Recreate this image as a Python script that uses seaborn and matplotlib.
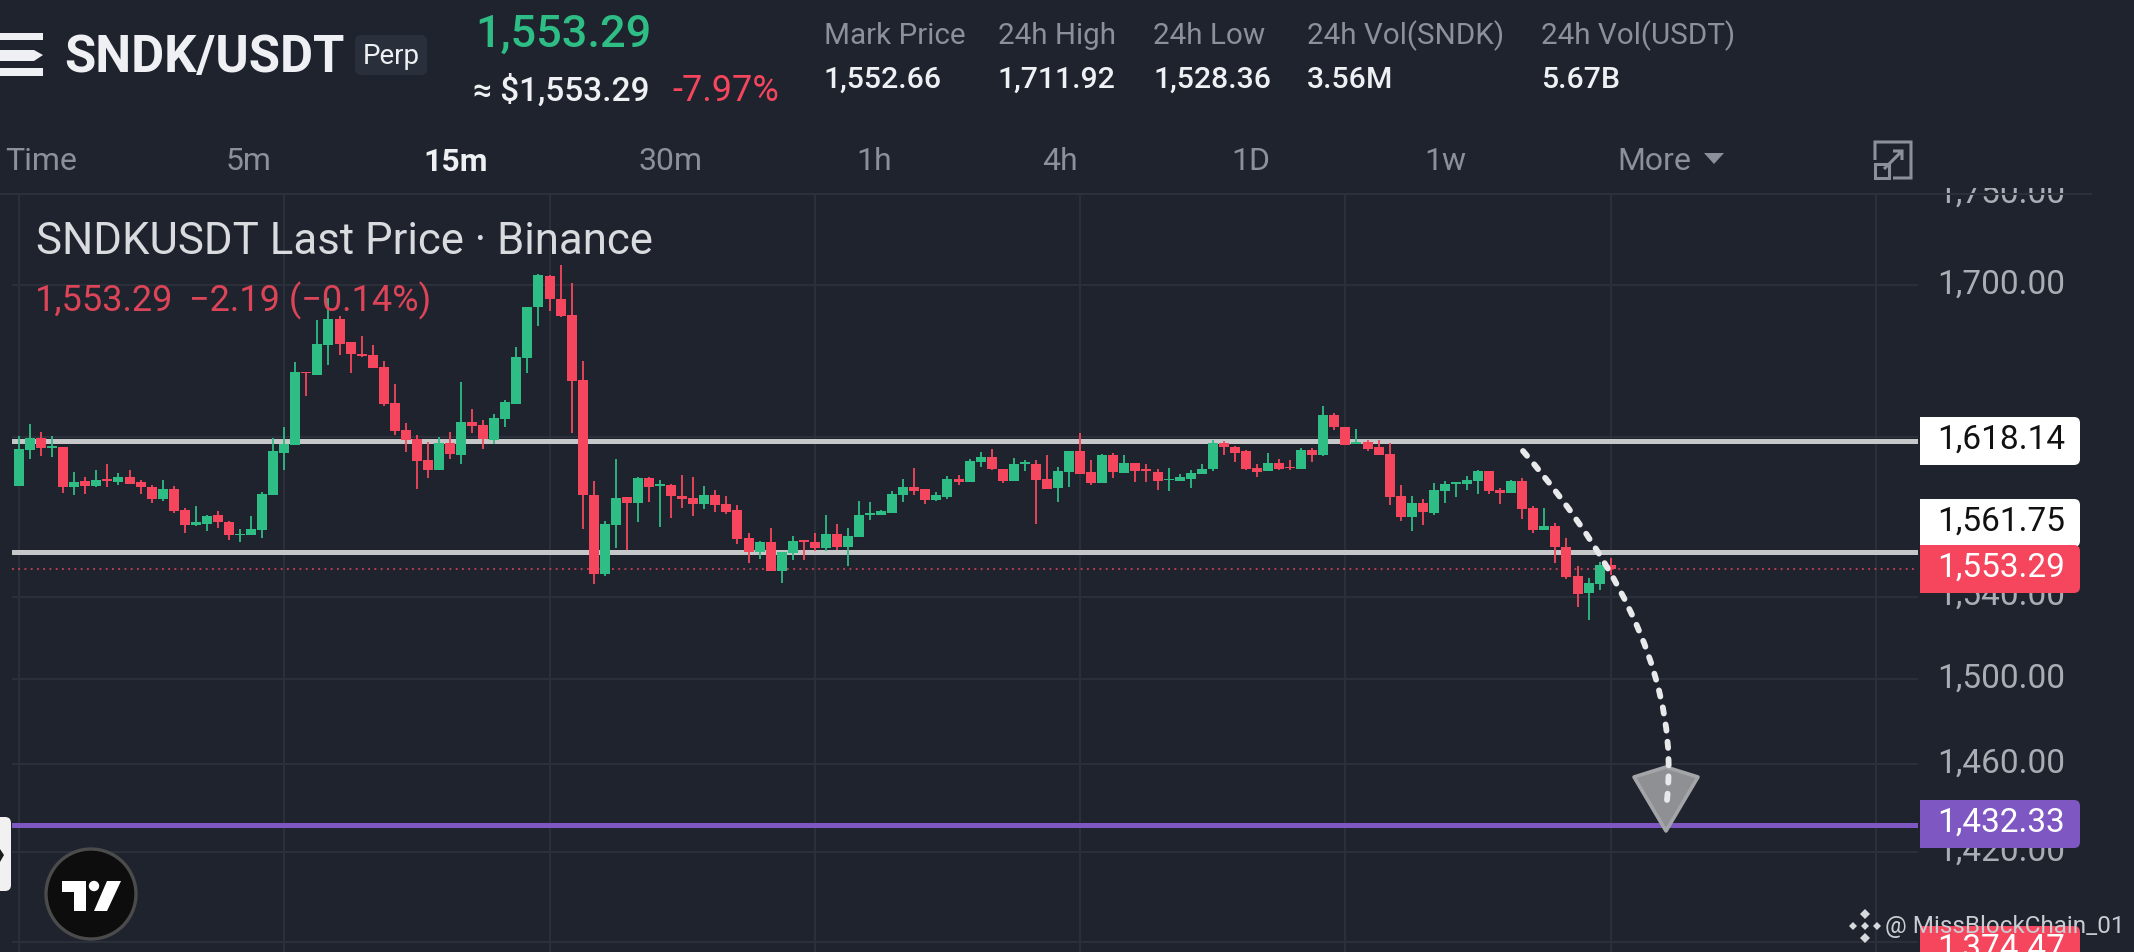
import matplotlib
matplotlib.use('Agg')
import matplotlib.pyplot as plt
import matplotlib.transforms as mtransforms
from matplotlib.patches import Rectangle, Circle, Polygon, FancyBboxPatch, PathPatch
from matplotlib.path import Path
import pandas as pd
import seaborn as sns

# 15m candles
opens = [1595.2, 1613.3, 1619.6, 1614.5, 1614.9, 1594.5, 1597.4, 1595.2, 1598.8, 1597.1,
         1599.8, 1596.9, 1594.7, 1588.5, 1593.6, 1582.9, 1575.5, 1575.7, 1580.3, 1577.1,
         1570.2, 1570.2, 1573.1, 1590.6, 1612.0, 1616.1, 1653.8, 1652.1, 1668.1, 1681.9,
         1669.4, 1663.5, 1662.9, 1656.4, 1637.6, 1623.6, 1618.8, 1608.1, 1603.1, 1616.8,
         1610.8, 1627.7, 1626.0, 1618.5, 1629.1, 1637.3, 1661.3, 1688.1, 1705.0, 1692.7,
         1684.0, 1649.6, 1590.7, 1551.1, 1575.6, 1589.2, 1586.4, 1598.9, 1595.0, 1595.3,
         1590.2, 1588.7, 1585.7, 1590.7, 1585.7, 1582.8, 1569.1, 1561.9, 1566.8, 1552.4,
         1561.2, 1568.0, 1566.8, 1563.8, 1571.1, 1564.3, 1569.6, 1580.2, 1580.2, 1581.6,
         1590.4, 1594.3, 1593.4, 1587.9, 1589.7, 1598.7, 1596.8, 1607.3, 1609.7, 1603.9,
         1597.7, 1606.0, 1606.0, 1598.4, 1593.8, 1602.3, 1612.7, 1602.1, 1596.5, 1610.6,
         1601.7, 1606.5, 1603.6, 1602.0, 1597.9, 1597.7, 1598.8, 1601.3, 1603.4, 1617.1,
         1615.0, 1612.6, 1604.4, 1602.5, 1606.5, 1604.9, 1603.4, 1613.6, 1610.7, 1631.4,
         1625.3, 1616.4, 1617.6, 1614.7, 1611.2, 1589.8, 1579.5, 1586.3, 1581.6, 1592.6,
         1596.1, 1595.9, 1597.5, 1602.5, 1592.9, 1591.4, 1597.5, 1583.9, 1572.8, 1575.1,
         1564.6, 1550.0, 1541.9, 1546.1, 1555.5]
highs = [1620.5, 1626.5, 1622.7, 1620.8, 1614.9, 1602.2, 1599.5, 1603.0, 1606.0, 1601.7,
         1603.0, 1598.3, 1595.7, 1597.9, 1595.2, 1583.9, 1584.9, 1580.6, 1582.4, 1577.4,
         1573.5, 1579.8, 1591.9, 1619.3, 1625.1, 1658.9, 1653.8, 1681.3, 1693.4, 1683.6,
         1669.7, 1673.0, 1668.1, 1659.4, 1647.3, 1627.4, 1621.0, 1617.6, 1620.2, 1622.7,
         1648.4, 1634.5, 1628.6, 1632.1, 1639.3, 1667.0, 1688.4, 1706.2, 1705.3, 1710.9,
         1701.4, 1659.7, 1597.5, 1577.6, 1609.0, 1589.6, 1599.5, 1599.7, 1598.3, 1595.8,
         1600.5, 1599.5, 1595.0, 1592.8, 1590.2, 1585.2, 1571.3, 1567.5, 1573.9, 1562.0,
         1569.8, 1568.0, 1571.3, 1580.2, 1575.7, 1574.0, 1587.4, 1586.8, 1583.0, 1592.3,
         1598.4, 1604.1, 1593.4, 1591.8, 1600.2, 1600.6, 1608.7, 1612.4, 1613.8, 1603.9,
         1609.2, 1608.3, 1608.3, 1610.7, 1604.8, 1612.9, 1621.9, 1608.2, 1611.2, 1611.6,
         1610.6, 1606.5, 1606.3, 1603.4, 1604.2, 1601.0, 1602.9, 1606.3, 1618.4, 1617.9,
         1615.4, 1613.1, 1606.1, 1611.6, 1609.0, 1608.0, 1614.5, 1614.5, 1636.2, 1632.5,
         1625.3, 1623.9, 1618.3, 1618.4, 1617.1, 1595.4, 1590.0, 1588.3, 1596.5, 1597.8,
         1597.1, 1600.0, 1603.2, 1602.5, 1593.9, 1598.1, 1599.0, 1584.9, 1583.8, 1576.5,
         1568.9, 1555.0, 1548.9, 1556.8, 1558.8]
lows = [1595.2, 1609.0, 1610.2, 1609.9, 1591.4, 1590.6, 1591.1, 1594.5, 1594.5, 1595.7,
        1596.0, 1590.9, 1586.5, 1587.5, 1581.2, 1571.4, 1574.7, 1572.6, 1573.8, 1568.0,
        1566.8, 1570.2, 1568.8, 1590.6, 1602.9, 1616.1, 1641.4, 1652.1, 1657.7, 1662.9,
        1653.5, 1661.5, 1655.9, 1635.9, 1621.0, 1612.5, 1593.7, 1599.2, 1603.1, 1608.6,
        1606.0, 1621.9, 1613.7, 1616.6, 1625.1, 1637.3, 1653.5, 1678.3, 1686.0, 1683.1,
        1621.9, 1573.4, 1546.0, 1549.9, 1563.7, 1562.9, 1576.9, 1587.0, 1574.2, 1578.9,
        1584.0, 1579.8, 1583.2, 1582.1, 1581.1, 1565.9, 1556.5, 1558.3, 1552.3, 1546.5,
        1557.8, 1557.8, 1562.6, 1562.6, 1563.0, 1554.8, 1569.6, 1577.7, 1580.2, 1581.6,
        1586.8, 1590.4, 1585.8, 1587.2, 1588.4, 1595.5, 1596.8, 1604.8, 1603.3, 1596.5,
        1597.7, 1602.8, 1576.0, 1593.4, 1587.0, 1594.3, 1601.2, 1595.6, 1596.5, 1599.3,
        1601.7, 1597.1, 1596.9, 1593.1, 1592.4, 1597.7, 1594.2, 1601.3, 1602.7, 1610.7,
        1607.3, 1603.0, 1599.6, 1602.5, 1603.2, 1602.9, 1603.4, 1607.2, 1610.2, 1623.4,
        1615.9, 1616.4, 1612.8, 1610.7, 1585.3, 1577.3, 1572.4, 1575.3, 1580.2, 1586.6,
        1589.2, 1592.9, 1590.9, 1590.9, 1585.8, 1591.4, 1578.5, 1571.2, 1572.8, 1556.3,
        1548.8, 1534.8, 1528.4, 1543.2, 1550.6]
closes = [1613.7, 1619.6, 1614.2, 1615.4, 1594.5, 1597.1, 1595.2, 1598.3, 1597.8, 1599.8,
          1596.2, 1594.3, 1588.5, 1593.6, 1582.4, 1575.5, 1576.7, 1580.1, 1576.7, 1570.2,
          1570.9, 1573.5, 1591.1, 1612.6, 1616.2, 1653.8, 1653.1, 1668.5, 1681.9, 1668.5,
          1663.4, 1662.0, 1655.9, 1637.3, 1623.1, 1618.5, 1607.7, 1603.1, 1617.1, 1611.1,
          1627.9, 1625.7, 1618.8, 1629.6, 1637.9, 1661.8, 1688.4, 1705.3, 1692.4, 1683.5,
          1649.2, 1590.4, 1551.1, 1576.1, 1589.0, 1586.4, 1598.9, 1594.5, 1595.8, 1589.9,
          1588.4, 1585.7, 1590.7, 1585.2, 1582.0, 1568.3, 1561.9, 1566.8, 1552.3, 1561.7,
          1567.5, 1567.1, 1563.7, 1571.1, 1564.3, 1570.1, 1580.2, 1581.3, 1582.3, 1590.9,
          1594.3, 1592.6, 1587.9, 1590.4, 1598.5, 1597.2, 1607.8, 1609.9, 1603.6, 1597.3,
          1606.0, 1607.0, 1598.0, 1593.4, 1602.8, 1612.7, 1601.2, 1596.5, 1610.7, 1602.0,
          1606.5, 1602.5, 1602.7, 1597.7, 1598.6, 1599.5, 1601.8, 1603.9, 1617.1, 1614.7,
          1611.9, 1603.9, 1602.2, 1606.5, 1603.7, 1604.1, 1613.6, 1610.7, 1631.4, 1625.0,
          1615.9, 1617.4, 1614.0, 1610.7, 1589.5, 1579.5, 1586.3, 1581.7, 1592.9, 1595.9,
          1597.0, 1598.1, 1602.5, 1592.4, 1591.5, 1597.5, 1583.2, 1572.9, 1575.1, 1564.3,
          1549.6, 1541.2, 1546.5, 1555.5, 1553.29]

grid_prices = [1380, 1420, 1460, 1500, 1540, 1620, 1700, 1750]
grid_labels = ['', '1,420.00', '1,460.00', '1,500.00', '1,540.00', '', '1,700.00', '1,750.00']
grid_candles = [0, 24, 48, 72, 96, 120, 144, 168]
support_levels = [1618.14, 1561.75]
target_level = 1432.33
last_price = 1553.29

header_stats = ['Mark Price', '24h High', '24h Low', '24h Vol(SNDK)', '24h Vol(USDT)']
header_values = ['1,552.66', '1,711.92', '1,528.36', '3.56M', '5.67B']
timeframes = ['5m', '15m', '30m', '1h', '4h', '1D', '1w']

BG = '#1e232e'
GREEN = '#2ebd85'
RED = '#f6465d'
PURPLE = '#7e57c2'
GRID = '#2b303b'
GREY = '#8b909a'
AXIS = '#a9adb4'
WHITE = '#eef0f3'

sns.set_theme(style='dark', rc={'axes.facecolor': BG, 'figure.facecolor': BG,
                                'lines.scale_dashes': False})
plt.rcParams['font.family'] = ['Roboto', 'DejaVu Sans']

fig = plt.figure(figsize=(21.34, 9.52), dpi=100)
px = mtransforms.Affine2D().scale(1 / 2134, -1 / 952).translate(0, 1) + fig.transFigure

ax = fig.add_axes([12 / 2134, 0, 1906 / 2134, 758 / 952])
ax.set_yscale('log')

# --- candles: one two-point line per wick and per body ---
candles = pd.DataFrame({'candle': range(len(opens)), 'open': opens, 'high': highs,
                        'low': lows, 'close': closes})
candles['side'] = ['up' if c >= o else 'down' for o, c in zip(opens, closes)]
wicks = candles.melt(id_vars=['candle', 'side'], value_vars=['high', 'low'], value_name='price')
bodies = candles.melt(id_vars=['candle', 'side'], value_vars=['open', 'close'], value_name='price')
palette = {'up': GREEN, 'down': RED}

sns.lineplot(data=wicks, x='candle', y='price', hue='side', units='candle', estimator=None,
             palette=palette, linewidth=1.3, legend=False, ax=ax, zorder=4,
             solid_capstyle='butt')
sns.lineplot(data=bodies, x='candle', y='price', hue='side', units='candle', estimator=None,
             palette=palette, linewidth=7.2, legend=False, ax=ax, zorder=4,
             solid_capstyle='butt')

# --- levels ---
for level in support_levels:
    ax.axhline(level, color='#c6c7c9', linewidth=3.6, zorder=3)
ax.axhline(target_level, color=PURPLE, linewidth=3.6, zorder=3)
ax.axhline(last_price, color=RED, linewidth=1.3, linestyle=(0, (1.3, 3.2)), alpha=0.8, zorder=2)

# --- axes ---
ax.set_xlim(-0.63, 171.8)
ax.set_ylim(1375.6, 1749.6)
ax.set_xlabel('')
ax.set_ylabel('')
ax.set_xticks(grid_candles)
ax.set_xticklabels([])
ax.set_yticks(grid_prices)
ax.set_yticks([], minor=True)
ax.set_yticklabels(grid_labels)
ax.yaxis.tick_right()
ax.tick_params(axis='y', which='both', length=0, pad=105.8, labelsize=24, labelcolor=AXIS)
ax.tick_params(axis='x', length=0)
label_shift = mtransforms.ScaledTranslation(0, 4 / 100, fig.dpi_scale_trans)
for label in ax.get_yticklabels():
    label.set_ha('right')
    label.set_transform(label.get_transform() + label_shift)
ax.grid(True, color=GRID, linewidth=1.4, zorder=0)
ax.set_axisbelow(True)
sns.despine(ax=ax, left=True, bottom=True, right=True, top=True)


def ptext(x, y, s, size, color=WHITE, ha='left', weight='normal', z=8):
    fig.text(x, y, s, fontsize=size, color=color, ha=ha, va='center', weight=weight,
             transform=px, zorder=z)


def pshape(patch, z=6):
    patch.set_transform(px)
    patch.set_zorder(z)
    fig.add_artist(patch)


# --- header cover, clips the top tick label ---
pshape(Rectangle((0, 0), 2134, 188, facecolor=BG, edgecolor='none'), z=3)
pshape(Rectangle((0, 193), 2092, 1.6, facecolor=GRID, edgecolor='none'), z=3)

# hamburger icon
for top, h in [(33, 7), (68, 8)]:
    pshape(Rectangle((0, top), 43, h, facecolor=WHITE, edgecolor='none'))
pshape(Polygon([(0, 50), (34, 50), (43, 55), (34, 61), (0, 61)], facecolor=WHITE, edgecolor='none'))

ptext(64, 58, 'SNDK/USDT', 36.5, weight='bold')
pshape(FancyBboxPatch((360, 40), 62, 30, boxstyle='round,pad=5,rounding_size=6',
                      facecolor='#2a303b', edgecolor='none'))
ptext(391, 57, 'Perp', 20, ha='center')
ptext(475, 35, '1,553.29', 32.5, color=GREEN, weight='medium')
ptext(473, 91, '≈ $1,553.29', 24, weight='medium')
ptext(672, 91, '-7.97%', 26, color=RED)

for x, name, value in zip([824, 998, 1153, 1307, 1541], header_stats, header_values):
    ptext(x, 36, name, 21.3, color=GREY)
    ptext(x, 80, value, 21.8, weight='medium')

ptext(5, 162, 'Time', 23, color=GREY)
for x, tf in zip([249, 456, 671, 874, 1060, 1251, 1445], timeframes):
    if tf == '15m':
        ptext(x, 162, tf, 23, ha='center', weight='bold')
    else:
        ptext(x, 162, tf, 23, color=GREY, ha='center')
ptext(1654, 162, 'More', 23, color=GREY, ha='center')
pshape(Polygon([(1704, 153), (1724, 153), (1714, 164)], facecolor=GREY, edgecolor='none'))
# expand icon
icon = Path([(1875, 160), (1875, 142), (1911, 142), (1911, 178), (1893, 178),
             (1884, 169), (1902, 151), (1893, 151), (1902, 151), (1902, 160)],
            [Path.MOVETO, Path.LINETO, Path.LINETO, Path.LINETO, Path.LINETO,
             Path.MOVETO, Path.LINETO, Path.MOVETO, Path.LINETO, Path.LINETO])
pshape(PathPatch(icon, facecolor='none', edgecolor=GREY, linewidth=2.2))
pshape(Rectangle((1875, 164), 14, 14, facecolor='none', edgecolor=GREY, linewidth=2.2))

# --- chart legend ---
ptext(36, 242, 'SNDKUSDT Last Price · Binance', 31.5, color='#d9dbdf')
ptext(35, 301, '1,553.29', 26, color='#dc4458')
ptext(189, 301, '−2.19 (−0.14%)', 26, color='#dc4458')

# --- projected move ---
pshape(Polygon([(1666, 831), (1634, 777), (1666, 767), (1698, 777)], closed=True,
               facecolor='#8e9094', edgecolor='#a4a5a8', linewidth=2.6, joinstyle='round'), z=6)
curve = Path([(1523, 451), (1685, 640), (1667, 800)], [Path.MOVETO, Path.CURVE3, Path.CURVE3])
pshape(PathPatch(curve, facecolor='none', edgecolor='#e8e9ea', linewidth=4.2,
                 linestyle=(0, (4.5, 8)), capstyle='round'), z=6)

# --- price tags on the right ---
tags = [(926, 974, '1,374.47', RED, 'white'),
        (417, 465, '1,618.14', 'white', '#111111'),
        (499, 547, '1,561.75', 'white', '#111111'),
        (545, 593, '1,553.29', RED, 'white'),
        (800, 848, '1,432.33', PURPLE, 'white')]
for top, bottom, text, face, ink in tags:
    pshape(FancyBboxPatch((1926, top + 3), 151, bottom - top - 6,
                          boxstyle='round,pad=3,rounding_size=6', facecolor=face, edgecolor='none'), z=6)
    pshape(Rectangle((1920, top), 30, bottom - top, facecolor=face, edgecolor='none'), z=6)
    ptext(2065, (top + bottom) / 2 - 1, text, 24, color=ink, ha='right', z=7)

# --- watermark ---
for cx, cy, r in [(1865, 914, 5), (1865, 938, 5), (1853, 926, 4), (1877, 926, 4), (1865, 926, 4)]:
    pshape(Polygon([(cx, cy - r), (cx + r, cy), (cx, cy + r), (cx - r, cy)], facecolor='#d7d9dc',
                   edgecolor='none'), z=8)
ptext(1885, 926, '@ MissBlockChain_01', 17.5, color='#c9ccd1', z=9)

# --- left tab and logo ---
pshape(FancyBboxPatch((-12, 822), 18, 64, boxstyle='round,pad=5,rounding_size=6',
                      facecolor='#f1f1f2', edgecolor='none'))
pshape(Polygon([(0, 849), (4, 855), (0, 862)], facecolor='#1b1b1b', edgecolor='none'), z=7)
pshape(Circle((91, 894), 45, facecolor='#0d0d0d', edgecolor='#4b4b4b', linewidth=2.4))
pshape(Polygon([(62, 881), (86, 881), (86, 911), (74, 911), (74, 892), (62, 892)],
               facecolor='white', edgecolor='none'), z=7)
pshape(Circle((94, 886), 5.2, facecolor='white', edgecolor='none'), z=7)
pshape(Polygon([(107, 881), (121, 881), (107, 911), (94, 911)], facecolor='white', edgecolor='none'), z=7)

fig.savefig('out.png', dpi=100, facecolor=BG)
